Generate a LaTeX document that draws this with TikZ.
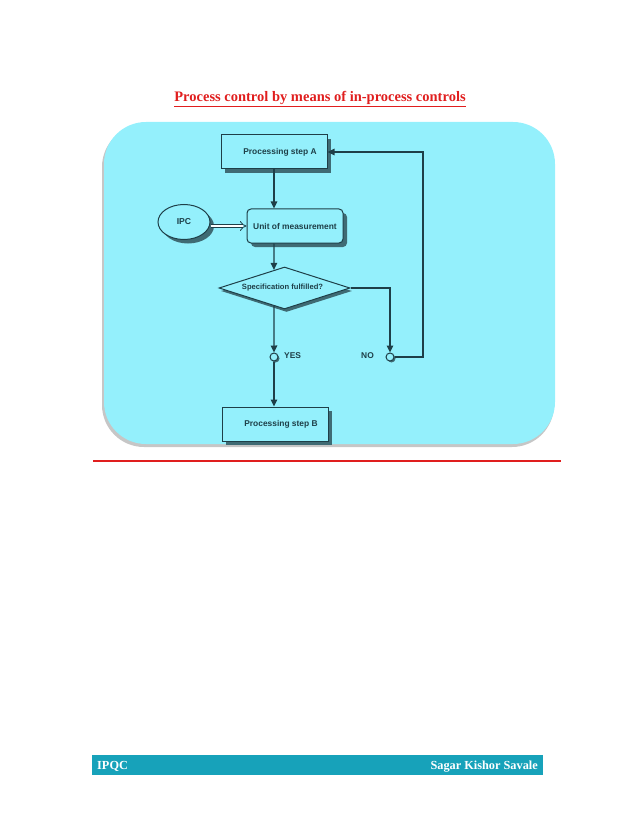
\documentclass[tikz,border=0pt]{standalone}
\usepackage{fontspec}
\setmainfont{Liberation Serif}
\newfontfamily\arial{Liberation Sans}
\usetikzlibrary{shapes.geometric,arrows.meta,shadows,calc}
\definecolor{bgcyan}{HTML}{94F0FC}
\definecolor{edge}{HTML}{1E3F48}
\definecolor{shd}{HTML}{3F6B74}
\definecolor{titlered}{HTML}{E01E1E}
\definecolor{footteal}{HTML}{17A2BA}
\tikzset{
  boxshadow/.style={drop shadow={shadow xshift=4pt,shadow yshift=-4pt,fill=shd,opacity=1}},
  stepbox/.style={draw=edge,line width=1pt,fill=bgcyan,minimum width=106pt,minimum height=34pt,inner sep=0pt,boxshadow,text=edge,font=\arial\bfseries\fontsize{8.4}{10}\selectfont},
  unitbox/.style={stepbox,minimum width=96pt,rounded corners=4pt},
  ipcnode/.style={ellipse,draw=edge,line width=1pt,fill=bgcyan,minimum width=52pt,minimum height=35pt,inner sep=0pt,boxshadow,text=edge,font=\arial\bfseries\fontsize{8.6}{10}\selectfont},
  decision/.style={diamond,draw=edge,line width=1pt,fill=bgcyan,minimum width=131pt,minimum height=42pt,inner sep=0pt,aspect=3,drop shadow={shadow xshift=2pt,shadow yshift=-3pt,fill=shd,opacity=1},text=edge,font=\arial\bfseries\fontsize{7.6}{9}\selectfont},
  junction/.style={circle,draw=edge,line width=1pt,fill=bgcyan,minimum size=8pt,inner sep=0pt,drop shadow={shadow xshift=1.5pt,shadow yshift=-1.5pt,fill=shd,opacity=1}},
  lbl/.style={font=\arial\bfseries\fontsize{8.4}{10}\selectfont,text=edge,inner sep=0pt},
  foot/.style={font=\bfseries\fontsize{12.3}{14}\selectfont,text=white,inner sep=0pt},
  conn/.style={draw=edge,line width=1.2pt},
  arr/.style={conn,-{Triangle[length=7pt,width=6.5pt]}},
}
\begin{document}
\begin{tikzpicture}[x=1pt,y=-1pt]
\useasboundingbox (0,0) rectangle (638,826);
% title
\node[font=\bfseries\fontsize{14.5}{16}\selectfont,text=titlered,inner sep=0pt] (title) at (320,99) {\underline{Process control by means of in-process controls}};
% panel
\fill[gray!45,rounded corners=42pt] (102,125) rectangle (554,447);
\fill[bgcyan,rounded corners=42pt] (104,122) rectangle (555,444);
% red rule
\draw[draw=titlered,line width=1.3pt] (93,461) -- (561,461);
% nodes
\node[stepbox] (A) at (274,152) {\hspace*{12pt}Processing step A};
\node[unitbox] (unit) at (295,226) {Unit of measurement};
\node[ipcnode] (ipc) at (184,222) {IPC};
\node[decision] (dia) at (284.5,288) {Specification fulfilled?\hspace*{4pt}};
\node[junction] (yes) at (274,357) {};
\node[junction] (no) at (390,357) {};
\node[stepbox] (B) at (275,424) {\hspace*{12pt}Processing step B};
\node[lbl,anchor=west] (yeslbl) at (284,356) {YES};
\node[lbl,anchor=east] (nolbl) at (374,356) {NO};
% connectors
\draw[arr] (A.south) -- (A.south |- unit.north);
\draw[edge,line width=0.8pt,double=white,double distance=2.6pt,-{Implies}] (ipc.east |- unit.west) -- (unit.west);
\coordinate (dtop) at ($(dia.north)!0.16!(dia.west)$);
\coordinate (dbot) at ($(dia.south)!0.16!(dia.west)$);
\draw[arr] (A.south |- unit.south) -- (dtop);
\draw[arr] (dbot) -- (yes.north);
\draw[arr] (dia.east) -| (no.north);
\coordinate (loopc) at (423,357);
\draw[arr] (no.east) -- (loopc) |- (A.east);
\draw[arr] (yes.south) -- (yes.south |- B.north);
% footer
\fill[footteal] (92,755) rectangle (543,775);
\node[foot,anchor=base west] (fl) at (97,769) {IPQC};
\node[foot,anchor=base east] (fr) at (538,769) {Sagar Kishor Savale};
\end{tikzpicture}
\end{document}
